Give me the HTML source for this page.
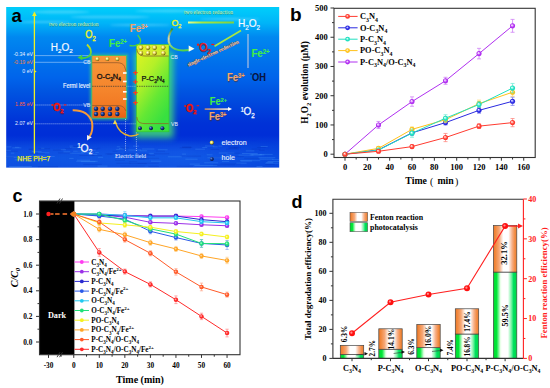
<!DOCTYPE html>
<html><head><meta charset="utf-8"><style>
html,body{margin:0;padding:0;background:#fff;width:550px;height:388px;overflow:hidden}
svg{display:block}
text{font-family:"Liberation Sans",sans-serif}
</style></head><body>
<svg width="550" height="388" viewBox="0 0 550 388">
<rect width="550" height="388" fill="#fff"/>
<defs><linearGradient id='bg' gradientUnits='userSpaceOnUse' x1='0' x2='0' y1='7' y2='167.6'><stop offset='0' stop-color='#00ccfa'/><stop offset='0.025' stop-color='#00c8fa'/><stop offset='0.1' stop-color='#00b4f8'/><stop offset='0.187' stop-color='#0088f0'/><stop offset='0.361' stop-color='#006eeb'/><stop offset='0.44' stop-color='#0064eb'/><stop offset='0.523' stop-color='#0055e1'/><stop offset='0.722' stop-color='#0032d7'/><stop offset='0.797' stop-color='#002ed7'/><stop offset='0.86' stop-color='#0640dc'/><stop offset='0.94' stop-color='#084ce0'/><stop offset='1' stop-color='#0846dc'/></linearGradient><linearGradient id='bgx' x1='0' x2='1' y1='0' y2='0'><stop offset='0' stop-color='#000' stop-opacity='0.04'/><stop offset='0.5' stop-color='#000' stop-opacity='0'/><stop offset='1' stop-color='#000' stop-opacity='0.05'/></linearGradient><linearGradient id='sea' x1='0' x2='0' y1='0' y2='1'><stop offset='0' stop-color='#3a90ff' stop-opacity='0'/><stop offset='1' stop-color='#3a90ff' stop-opacity='0'/></linearGradient><linearGradient id='ob' x1='0' x2='0' y1='0' y2='1'><stop offset='0' stop-color='#f7963a'/><stop offset='0.55' stop-color='#f5852c'/><stop offset='0.78' stop-color='#f27a24'/><stop offset='1' stop-color='#e85e12'/></linearGradient><linearGradient id='pb' x1='0' x2='0.55' y1='0' y2='1'><stop offset='0' stop-color='#e8f420'/><stop offset='0.4' stop-color='#b4f028'/><stop offset='0.72' stop-color='#64e834'/><stop offset='1' stop-color='#38e040'/></linearGradient><filter id='glow' x='-50%' y='-50%' width='200%' height='200%'><feGaussianBlur stdDeviation='3'/></filter><filter id='blur1' x='-50%' y='-50%' width='200%' height='200%'><feGaussianBlur stdDeviation='1'/></filter><radialGradient id='el' cx='0.4' cy='0.38' r='0.62'><stop offset='0' stop-color='#ffffe8'/><stop offset='0.35' stop-color='#f0e870'/><stop offset='0.75' stop-color='#b0a028'/><stop offset='1' stop-color='#504010'/></radialGradient><radialGradient id='ho' cx='0.35' cy='0.35' r='0.65'><stop offset='0' stop-color='#6a90e0'/><stop offset='0.5' stop-color='#18388a'/><stop offset='1' stop-color='#0a1440'/></radialGradient></defs>
<rect x='6.2' y='7' width='273.0' height='160.6' fill='url(#bg)'/>
<defs><linearGradient id='seah' gradientUnits='userSpaceOnUse' x1='6' x2='279' y1='0' y2='0'><stop offset='0' stop-color='#3a90ff' stop-opacity='0.12'/><stop offset='0.65' stop-color='#3a90ff' stop-opacity='0.2'/><stop offset='1' stop-color='#3a90ff' stop-opacity='0'/></linearGradient><linearGradient id='seav' x1='0' x2='0' y1='0' y2='1'><stop offset='0' stop-color='#fff' stop-opacity='0'/><stop offset='0.4' stop-color='#fff' stop-opacity='1'/><stop offset='1' stop-color='#fff' stop-opacity='1'/></linearGradient><mask id='seam'><rect x='6' y='140' width='273' height='28' fill='url(#seav)'/></mask></defs>
<rect x='6.2' y='140' width='273.0' height='27.6' fill='url(#seah)' mask='url(#seam)'/>
<path d='M38.1 152.8h11.4 M97.9 157.3h5.1 M116.8 146.8h3.1 M226.1 154.9h5.5 M259.7 159.2h13.6 M9.1 166.5h22.7 M157.9 149.8h9.7 M13.7 157.5h5.1 M76.2 161.3h21.5 M206.7 154.8h5.8 M272.3 159.6h6.9 M182.1 154.1h4.0 M236.4 163.2h10.2 M242.0 153.5h15.7 M60.7 149.7h5.4 M69.2 158.4h4.4 M167.9 156.8h13.9 M14.9 147.3h4.5 M10.8 153.1h3.5 M37.5 158.9h8.4 M130.7 155.8h5.2 M69.8 153.2h13.9 M260.6 146.5h7.1 M189.7 164.1h10.1 M140.1 150.8h7.1 M97.6 166.1h9.9 M218.8 153.0h15.5 M259.4 154.4h13.3 M148.7 153.4h5.2 M238.5 155.1h15.0 M251.3 154.8h10.5 M6.2 157.0h10.6 M218.4 146.1h3.9 M150.9 161.2h10.4 M73.2 151.2h12.0 M207.5 157.8h18.0 M239.9 160.7h20.4 M258.4 157.7h16.9 M119.1 148.6h3.5 M195.3 149.2h9.7 M116.2 149.4h8.3 M84.8 150.1h10.8 M118.6 157.6h4.5 M266.3 162.6h6.9 M212.8 146.8h4.9 M249.6 154.9h14.8 M12.2 147.9h9.2 M32.1 151.6h9.4 M41.1 148.3h3.3 M81.0 152.6h12.6 M45.7 156.5h9.0 M128.2 150.0h13.0 M92.8 154.5h4.5 M202.2 147.5h5.0 M63.5 151.9h6.8 M95.3 152.5h3.5 M136.0 156.0h6.8 M69.6 146.1h3.2 M6.2 146.9h5.2 M240.6 161.0h11.4 M222.0 161.4h7.2 M6.2 150.8h4.7 M185.4 159.2h12.2 M204.2 162.8h14.0 M14.6 159.8h16.5 M70.0 147.6h9.4 M267.5 161.5h11.7 M17.7 159.5h6.9 M80.8 161.6h14.6 M77.1 160.2h13.1 M29.1 155.8h16.4 M256.5 166.5h6.0 M265.3 163.2h13.3 M141.9 149.0h12.5 M245.8 150.9h8.6 M132.9 146.1h6.2 M204.9 146.0h9.5 M194.4 165.5h22.9' stroke='#5ab0ff' stroke-opacity='0.28' stroke-width='0.9'/>
<path d='M28.9 149.0h6.0 M115.1 160.3h9.8 M79.5 155.5h14.8 M155.9 151.1h9.1 M182.0 146.8h9.3 M83.4 164.4h18.3 M123.0 158.2h17.1 M180.8 156.0h4.8 M28.8 149.5h3.6 M65.0 148.7h6.7 M121.1 147.7h7.8 M153.6 153.8h15.8 M213.0 164.9h22.0 M107.1 154.2h5.1 M97.3 148.1h3.0 M30.4 153.6h14.4 M6.2 157.4h12.0 M210.8 149.5h8.5 M58.2 152.9h13.5 M220.3 163.9h20.3 M73.9 146.6h4.8 M120.5 166.1h24.0 M53.0 150.1h9.7 M129.5 163.6h17.2 M179.8 147.8h11.2 M129.1 161.8h8.0 M38.2 148.7h11.8 M226.0 149.1h12.8 M176.8 166.4h16.1 M77.6 151.3h6.0 M112.7 151.4h4.8 M123.6 153.4h10.9 M214.2 157.7h5.9 M136.7 158.9h12.4 M144.5 155.5h10.5 M182.3 147.5h9.9 M265.2 164.5h9.5 M131.7 154.4h16.7 M138.6 159.1h5.5 M251.7 149.1h8.7 M257.1 147.5h8.5 M234.2 147.8h3.3 M90.5 155.5h11.5 M6.2 151.3h11.6 M116.3 163.2h14.1 M137.1 154.3h12.7 M227.6 153.2h12.3 M230.1 147.8h10.9 M120.1 149.3h5.6 M148.3 166.4h10.5 M143.3 158.3h15.8 M37.8 166.7h20.2 M228.4 146.9h10.5 M228.3 156.6h15.6 M244.4 158.3h14.8 M228.6 148.2h8.1 M186.3 156.1h14.8 M70.9 147.3h8.7 M259.1 150.4h5.4 M137.6 163.2h21.2 M91.8 149.0h6.1 M105.4 153.8h16.4' stroke='#0020a0' stroke-opacity='0.18' stroke-width='0.9'/>
<g filter='url(#blur1)' fill='#a0eaff' opacity='0.35'><ellipse cx='60' cy='12' rx='30' ry='1.5'/><ellipse cx='110' cy='17' rx='40' ry='1.3'/><ellipse cx='170' cy='11' rx='35' ry='1.4'/><ellipse cx='230' cy='19' rx='30' ry='1.2'/><ellipse cx='45' cy='22' rx='25' ry='1'/><ellipse cx='140' cy='25' rx='30' ry='1'/></g>
<text x='11.5' y='22.3' fill='#000' font-size='18.5' text-anchor='start' style="font-family:'Liberation Sans',sans-serif;font-weight:bold" >a</text>
<path d='M34.5 55.6H92M34.5 62.3H92' stroke='#d8ecff' stroke-width='0.55' stroke-opacity='0.85'/>
<path d='M34.5 105H92M34.5 123.8H137' stroke='#e0efff' stroke-width='0.6' stroke-dasharray='1.2 0.8' stroke-opacity='0.9'/>
<path d='M34.4 153.6V14' stroke='#f0f020' stroke-width='1.3'/><path d='M34.4 11.5l-2.3 4.5h4.6z' fill='#f0f020'/>
<path d='M34.6 70.2l2 1.3l-2 1.3z' fill='#f0f020'/>
<text x='33' y='56' fill='#e8f0ff' font-size='5.2' text-anchor='end' style="font-family:'Liberation Sans',sans-serif" >-0.34 eV</text>
<text x='33' y='63.6' fill='#f08040' font-size='5.2' text-anchor='end' style="font-family:'Liberation Sans',sans-serif" >-0.19 eV</text>
<text x='33' y='73.4' fill='#e8f0ff' font-size='5.2' text-anchor='end' style="font-family:'Liberation Sans',sans-serif" >0 eV</text>
<text x='33' y='106' fill='#ff6040' font-size='5.2' text-anchor='end' style="font-family:'Liberation Sans',sans-serif" >1.85 eV</text>
<text x='33' y='125' fill='#e8f0ff' font-size='5.2' text-anchor='end' style="font-family:'Liberation Sans',sans-serif" >2.07 eV</text>
<text x='17.3' y='160.5' fill='#e8e820' font-size='6.7' text-anchor='start' style="font-family:'Liberation Sans',sans-serif" stroke='#e8e820' stroke-width='0.25' >NHE PH=7</text>
<rect x='134.5' y='52' width='39' height='86' fill='#50ff60' opacity='0.7' filter='url(#glow)'/>
<rect x='89.5' y='53.5' width='39' height='67' fill='#40d080' opacity='0.5' filter='url(#blur1)'/>
<rect x='91.8' y='55.5' width='34.6' height='62.7' fill='url(#ob)' stroke='#3cc070' stroke-width='0.9'/>
<path d='M92.2 62.7H117Q123 62.7 124.5 66.5L126 71' stroke='#9a5a2a' stroke-width='0.8' fill='none'/>
<path d='M92.2 105.5H117Q123 105.5 124.5 108.5L126 111' stroke='#9a5a2a' stroke-width='0.8' fill='none'/>
<path d='M92.2 86.3H126.2' stroke='#333' stroke-width='0.7' stroke-dasharray='1.4 0.9'/>
<circle cx='97.3' cy='59' r='2' fill='url(#el)'/>
<circle cx='107.3' cy='59' r='2' fill='url(#el)'/>
<circle cx='117.3' cy='59' r='2' fill='url(#el)'/>
<circle cx='96' cy='108.7' r='2.25' fill='url(#ho)'/>
<circle cx='102.7' cy='108.7' r='2.25' fill='url(#ho)'/>
<circle cx='110' cy='108.7' r='2.25' fill='url(#ho)'/>
<circle cx='117.3' cy='108.7' r='2.25' fill='url(#ho)'/>
<circle cx='96' cy='114' r='2.25' fill='url(#ho)'/>
<circle cx='102.7' cy='114' r='2.25' fill='url(#ho)'/>
<circle cx='110' cy='114' r='2.25' fill='url(#ho)'/>
<circle cx='117.3' cy='114' r='2.25' fill='url(#ho)'/>
<text x='108.7' y='79' fill='#111' font-size='7.4' text-anchor='middle' style="font-family:'Liberation Sans',sans-serif" stroke='#111' stroke-width='0.3' >O-C<tspan font-size='4.59' dy='2.07'>3</tspan><tspan dy='-2.07'>&#8203;</tspan>N<tspan font-size='4.59' dy='2.07'>4</tspan><tspan dy='-2.07'>&#8203;</tspan></text>
<rect x='136.4' y='44.5' width='32.6' height='87.3' fill='url(#pb)' stroke='#30c030' stroke-width='0.6'/>
<rect x='136.8' y='44.9' width='31.8' height='11' fill='#e0ea30' opacity='0.6'/>
<path d='M168.6 56H145Q139 56 137.5 52L136.8 49' stroke='#8a6a2a' stroke-width='0.8' fill='none'/>
<path d='M168.6 123.6H145Q139 123.6 137.5 120L136.8 117' stroke='#8a6a2a' stroke-width='0.8' fill='none'/>
<path d='M136.8 86.3H168.6' stroke='#333' stroke-width='0.7' stroke-dasharray='1.4 0.9'/><path d='M126.4 86.3H136.4' stroke='#c0d8ff' stroke-width='0.6' stroke-dasharray='1 1'/>
<circle cx='140.9' cy='47.6' r='2.3' fill='url(#el)'/>
<circle cx='147.9' cy='47.6' r='2.3' fill='url(#el)'/>
<circle cx='154.5' cy='47.6' r='2.3' fill='url(#el)'/>
<circle cx='163.2' cy='47.6' r='2.3' fill='url(#el)'/>
<circle cx='140.9' cy='53' r='2.3' fill='url(#el)'/>
<circle cx='147.9' cy='53' r='2.3' fill='url(#el)'/>
<circle cx='154.5' cy='53' r='2.3' fill='url(#el)'/>
<circle cx='163.2' cy='53' r='2.3' fill='url(#el)'/>
<circle cx='140' cy='128.2' r='2' fill='url(#ho)'/>
<circle cx='151' cy='128.2' r='2' fill='url(#ho)'/>
<circle cx='162.4' cy='128.2' r='2' fill='url(#ho)'/>
<text x='153' y='81' fill='#111' font-size='7.4' text-anchor='middle' style="font-family:'Liberation Sans',sans-serif" stroke='#111' stroke-width='0.25' >P-C<tspan font-size='4.59' dy='2.07'>3</tspan><tspan dy='-2.07'>&#8203;</tspan>N<tspan font-size='4.59' dy='2.07'>4</tspan><tspan dy='-2.07'>&#8203;</tspan></text>
<rect x='123' y='72.2' width='3.6' height='1.6' fill='#fff'/>
<rect x='123' y='80.7' width='3.6' height='1.6' fill='#fff'/>
<rect x='123' y='91.0' width='3.6' height='1.6' fill='#fff'/>
<rect x='123' y='98.2' width='3.6' height='1.6' fill='#fff'/>
<path d='M133.2 72.7h4.4M135.4 70.5v4.4' stroke='#ff3a20' stroke-width='1.2'/>
<path d='M133.2 81.8h4.4M135.4 79.6v4.4' stroke='#ff3a20' stroke-width='1.2'/>
<path d='M133.2 92.7h4.4M135.4 90.5v4.4' stroke='#ff3a20' stroke-width='1.2'/>
<path d='M133.2 102.7h4.4M135.4 100.5v4.4' stroke='#ff3a20' stroke-width='1.2'/>
<path d='M125.5 119V151M136.4 132.5V151' stroke='#f0f4ff' stroke-width='0.7' stroke-dasharray='1 1.2' opacity='0.9'/>
<text x='130.5' y='157.5' fill='#f0f4ff' font-size='6' text-anchor='middle' style="font-family:'Liberation Serif',serif" >Electric field</text>
<text x='83.3' y='64.3' fill='#e8f0ff' font-size='5.2' text-anchor='start' style="font-family:'Liberation Sans',sans-serif" >CB</text>
<text x='83.3' y='106.6' fill='#e8f0ff' font-size='5.2' text-anchor='start' style="font-family:'Liberation Sans',sans-serif" >VB</text>
<text x='170.5' y='59' fill='#e8f0ff' font-size='5.2' text-anchor='start' style="font-family:'Liberation Sans',sans-serif" >CB</text>
<text x='171' y='125.6' fill='#e8f0ff' font-size='5.2' text-anchor='start' style="font-family:'Liberation Sans',sans-serif" >VB</text>
<text transform='translate(76.6,87.9) scale(0.86,1)' fill='#eef4ff' stroke='#eef4ff' stroke-width='0.15' font-size='6.5' text-anchor='middle' style="font-family:'Liberation Sans',sans-serif">Fermi level</text>
<text transform='translate(50.80,51.10) scale(1.0,1)' fill='#f4f8ff' stroke='#f4f8ff' stroke-width='0.2' font-size='10' font-weight='normal' style="font-family:'Liberation Sans',sans-serif">H<tspan font-size='6.20' dy='2.20'>2</tspan><tspan dy='-2.20'>O</tspan><tspan font-size='6.20' dy='2.20'>2</tspan></text>
<text transform='translate(85.20,38.40) scale(0.9,1)' fill='#f0f228' stroke='#f0f228' stroke-width='0.35' font-size='10.4' font-weight='normal' style="font-family:'Liberation Sans',sans-serif">O<tspan font-size='6.45' dy='2.29'>2</tspan></text>
<text transform='translate(109.00,47.30) scale(0.8924,1)' fill='#44ee44' stroke='#44ee44' stroke-width='0.12' font-size='10.8' font-weight='bold' style="font-family:'Liberation Sans',sans-serif">Fe<tspan font-size='6.70' dy='-3.24'>2+</tspan></text>
<text transform='translate(129.80,31.90) scale(0.9311999999999999,1)' fill='#f5a264' stroke='#f5a264' stroke-width='0.12' font-size='10.3' font-weight='bold' style="font-family:'Liberation Sans',sans-serif">Fe<tspan font-size='6.39' dy='-3.09'>3+</tspan></text>
<text x='49.5' y='26.8' fill='#3a6a30' font-size='5.5' text-anchor='start' style="font-family:'Liberation Serif',serif" opacity='0.5'>two electron reduction</text>
<text x='49.0' y='26.3' fill='#d8f090' font-size='5.5' text-anchor='start' style="font-family:'Liberation Serif',serif" >two electron reduction</text>
<text x='184.5' y='14.9' fill='#3a6a30' font-size='5.45' text-anchor='start' style="font-family:'Liberation Serif',serif" opacity='0.5'>two electron reduction</text>
<text x='184' y='14.4' fill='#d8f090' font-size='5.45' text-anchor='start' style="font-family:'Liberation Serif',serif" >two electron reduction</text>
<text transform='translate(171.40,26.00) scale(0.9,1)' fill='#f0f228' stroke='#f0f228' stroke-width='0.35' font-size='9.9' font-weight='normal' style="font-family:'Liberation Sans',sans-serif">O<tspan font-size='6.14' dy='2.18'>2</tspan></text>
<text transform='translate(238.00,27.40) scale(0.98,1)' fill='#f4f8ff' stroke='#f4f8ff' stroke-width='0.2' font-size='10.3' font-weight='normal' style="font-family:'Liberation Sans',sans-serif">H<tspan font-size='6.39' dy='2.27'>2</tspan><tspan dy='-2.27'>O</tspan><tspan font-size='6.39' dy='2.27'>2</tspan></text>
<circle cx='198.00' cy='44.73' r='1.15' fill='#f01818'/>
<text transform='translate(199.40,51.90) scale(0.92,1)' fill='#600000' stroke='#600000' stroke-width='0.6' font-size='11.5' font-weight='normal' style="font-family:'Liberation Sans',sans-serif" opacity='0.55'>O<tspan font-size='7.13' dy='2.53'>2</tspan></text>
<text transform='translate(198.90,51.40) scale(0.92,1)' fill='#f01818' stroke='#f01818' stroke-width='0.3' font-size='11.5' font-weight='normal' style="font-family:'Liberation Sans',sans-serif">O<tspan font-size='7.13' dy='2.53'>2</tspan></text>
<path d='M211.30 44.50h2.99' stroke='#f01818' stroke-width='1.26'/>
<text transform='translate(251.40,56.80) scale(0.9021,1)' fill='#44ee44' stroke='#44ee44' stroke-width='0.12' font-size='10.8' font-weight='bold' style="font-family:'Liberation Sans',sans-serif">Fe<tspan font-size='6.70' dy='-3.24'>2+</tspan></text>
<text transform='translate(227.50,81.50) scale(0.873,1)' fill='#503020' stroke='#503020' stroke-width='0.42' font-size='10.8' font-weight='bold' style="font-family:'Liberation Sans',sans-serif" opacity='0.55'>Fe<tspan font-size='6.70' dy='-3.24'>3+</tspan></text>
<text transform='translate(227.00,81.00) scale(0.873,1)' fill='#f5a870' stroke='#f5a870' stroke-width='0.12' font-size='10.8' font-weight='bold' style="font-family:'Liberation Sans',sans-serif">Fe<tspan font-size='6.70' dy='-3.24'>3+</tspan></text>
<text transform='translate(252.00,81.00) scale(0.86,1)' fill='#081440' stroke='#081440' stroke-width='0.1' font-size='10.8' font-weight='bold' style="font-family:'Liberation Sans',sans-serif">OH</text>
<circle cx='251' cy='74' r='0.8' fill='#081848'/>
<text transform='translate(213.8,54.8) rotate(-25)' fill='#f8d4bc' stroke='#6a4028' stroke-width='0.4' paint-order='stroke' font-size='5.3' text-anchor='middle' style="font-family:'Liberation Serif',serif;font-weight:bold">single-electron reduction</text>
<defs><linearGradient id='gl' gradientUnits='userSpaceOnUse' x1='188' x2='234' y1='0' y2='0'><stop offset='0' stop-color='#e8ff90'/><stop offset='0.3' stop-color='#a8e840'/><stop offset='1' stop-color='#80d040'/></linearGradient></defs>
<path d='M188 22.6H234' stroke='url(#gl)' stroke-width='2'/>
<path d='M214.5 46.2L241 30.6' stroke='#a8e840' stroke-width='1.7'/>
<path d='M248 34V68' stroke='#c0c8e0' stroke-width='1.1'/>
<circle cx='52.30' cy='105.10' r='1.00' fill='#f01818'/>
<text transform='translate(53.70,111.40) scale(0.92,1)' fill='#600000' stroke='#600000' stroke-width='0.6' font-size='10' font-weight='bold' style="font-family:'Liberation Sans',sans-serif" opacity='0.55'>O<tspan font-size='6.20' dy='2.20'>2</tspan></text>
<text transform='translate(53.20,110.90) scale(0.92,1)' fill='#f01818' stroke='#f01818' stroke-width='0.3' font-size='10' font-weight='bold' style="font-family:'Liberation Sans',sans-serif">O<tspan font-size='6.20' dy='2.20'>2</tspan></text>
<path d='M63.80 104.90h2.60' stroke='#f01818' stroke-width='1.10'/>
<circle cx='185.10' cy='105.90' r='1.00' fill='#f01818'/>
<text transform='translate(186.50,112.20) scale(0.92,1)' fill='#600000' stroke='#600000' stroke-width='0.6' font-size='10' font-weight='bold' style="font-family:'Liberation Sans',sans-serif" opacity='0.55'>O<tspan font-size='6.20' dy='2.20'>2</tspan></text>
<text transform='translate(186.00,111.70) scale(0.92,1)' fill='#f01818' stroke='#f01818' stroke-width='0.3' font-size='10' font-weight='bold' style="font-family:'Liberation Sans',sans-serif">O<tspan font-size='6.20' dy='2.20'>2</tspan></text>
<path d='M196.60 105.70h2.60' stroke='#f01818' stroke-width='1.10'/>
<text transform='translate(209.80,104.50) scale(0.9215,1)' fill='#44ee44' stroke='#44ee44' stroke-width='0.12' font-size='10' font-weight='bold' style="font-family:'Liberation Sans',sans-serif">Fe<tspan font-size='6.20' dy='-3.00'>2+</tspan></text>
<text transform='translate(209.50,120.50) scale(0.873,1)' fill='#503020' stroke='#503020' stroke-width='0.42' font-size='10.7' font-weight='bold' style="font-family:'Liberation Sans',sans-serif" opacity='0.55'>Fe<tspan font-size='6.63' dy='-3.21'>3+</tspan></text>
<text transform='translate(209.00,120.00) scale(0.873,1)' fill='#f5a870' stroke='#f5a870' stroke-width='0.12' font-size='10.7' font-weight='bold' style="font-family:'Liberation Sans',sans-serif">Fe<tspan font-size='6.63' dy='-3.21'>3+</tspan></text>
<defs><linearGradient id='ga' gradientUnits='userSpaceOnUse' x1='205' x2='232' y1='0' y2='0'><stop offset='0' stop-color='#d09060'/><stop offset='1' stop-color='#ffffff'/></linearGradient></defs>
<path d='M204.7 109.1H228.5' stroke='url(#ga)' stroke-width='1.5'/><path d='M232 109.1l-4 -2v4z' fill='#fff'/>
<text transform='translate(240.40,112.25) scale(1,1)' fill='#f4f8ff' stroke='#f4f8ff' stroke-width='0.2' font-size='6.3' font-weight='normal' style="font-family:'Liberation Sans',sans-serif">1</text>
<text transform='translate(243.55,115.40) scale(0.95,1)' fill='#f4f8ff' stroke='#f4f8ff' stroke-width='0.25' font-size='10.5' font-weight='normal' style="font-family:'Liberation Sans',sans-serif">O<tspan font-size='6.51' dy='2.31'>2</tspan></text>
<text transform='translate(77.30,148.20) scale(1,1)' fill='#f4f8ff' stroke='#f4f8ff' stroke-width='0.2' font-size='6.6' font-weight='normal' style="font-family:'Liberation Sans',sans-serif">1</text>
<text transform='translate(80.60,151.50) scale(0.95,1)' fill='#f4f8ff' stroke='#f4f8ff' stroke-width='0.25' font-size='11' font-weight='normal' style="font-family:'Liberation Sans',sans-serif">O<tspan font-size='6.82' dy='2.42'>2</tspan></text>
<circle cx='211.8' cy='142.7' r='2.1' fill='url(#el)'/><circle cx='211.8' cy='159' r='2' fill='url(#ho)'/>
<text x='221.5' y='144.6' fill='#eef4ff' font-size='7.1' text-anchor='start' style="font-family:'Liberation Sans',sans-serif" stroke='#eef4ff' stroke-width='0.1' >electron</text>
<text x='221.5' y='159.6' fill='#eef4ff' font-size='7.1' text-anchor='start' style="font-family:'Liberation Sans',sans-serif" stroke='#eef4ff' stroke-width='0.1' >hole</text>
<defs><linearGradient id='ga1' gradientUnits='userSpaceOnUse' x1='0' x2='0' y1='44' y2='58'><stop offset='0' stop-color='#d0e020'/><stop offset='1' stop-color='#40d040'/></linearGradient></defs><path d='M87 44.5Q92.5 50 90.5 54.5Q87.5 58.5 81 58' stroke='url(#ga1)' stroke-width='1.8' fill='none'/><path d='M77.5 57.5l4.8 -2.8v5.6z' fill='#40d040'/>
<path d='M137.7 35Q142.5 41 139.5 44Q136 46.5 129.5 45.5' stroke='#50d040' stroke-width='1.3' fill='none'/>
<defs><linearGradient id='ga2' gradientUnits='userSpaceOnUse' x1='0' x2='0' y1='28' y2='52'><stop offset='0' stop-color='#208a20'/><stop offset='0.45' stop-color='#e0d8b0'/><stop offset='1' stop-color='#40d040'/></linearGradient></defs><path d='M172.5 28.5Q166 38 170 45Q175 52 189 50' stroke='url(#ga2)' stroke-width='2' fill='none'/><path d='M194.5 48.8l-5.8 -3.2v6.2z' fill='#f8fff0'/>
<path d='M72.7 110.2Q88 110 92 122Q93.5 131 89.5 136.5' stroke='#f59a38' stroke-width='2' fill='none'/><path d='M87 140.5l0 -5.5l4.8 2.2z' fill='#f4f0e8'/>
<path d='M115.5 122.5Q119 133.5 129 135.8Q135 136.5 138.5 134' stroke='#e8b030' stroke-width='1.4' fill='none'/><path d='M115 119.5l-2 4.5h4z' fill='#f0d850'/>
<g stroke='#333' stroke-width='1.1' fill='none'><rect x='334.0' y='8.3' width='201.2' height='149.2'/></g>
<path d='M345.00 157.5v3.2 M356.17 157.5v2 M367.34 157.5v3.2 M378.51 157.5v2 M389.68 157.5v3.2 M400.85 157.5v2 M412.02 157.5v3.2 M423.19 157.5v2 M434.36 157.5v3.2 M445.53 157.5v2 M456.70 157.5v3.2 M467.87 157.5v2 M479.04 157.5v3.2 M490.21 157.5v2 M501.38 157.5v3.2 M512.55 157.5v2 M523.72 157.5v3.2 M334.0 154.20h-3.5 M334.0 139.58h-2 M334.0 124.96h-3.5 M334.0 110.34h-2 M334.0 95.72h-3.5 M334.0 81.10h-2 M334.0 66.48h-3.5 M334.0 51.86h-2 M334.0 37.24h-3.5 M334.0 22.62h-2 M334.0 8.00h-3.5' stroke='#333' stroke-width='1' fill='none'/>
<text x='345.00' y='170.3' text-anchor='middle' style="font-family:'Liberation Serif',serif;font-weight:bold" font-size='8.5'>0</text>
<text x='367.34' y='170.3' text-anchor='middle' style="font-family:'Liberation Serif',serif;font-weight:bold" font-size='8.5'>20</text>
<text x='389.68' y='170.3' text-anchor='middle' style="font-family:'Liberation Serif',serif;font-weight:bold" font-size='8.5'>40</text>
<text x='412.02' y='170.3' text-anchor='middle' style="font-family:'Liberation Serif',serif;font-weight:bold" font-size='8.5'>60</text>
<text x='434.36' y='170.3' text-anchor='middle' style="font-family:'Liberation Serif',serif;font-weight:bold" font-size='8.5'>80</text>
<text x='456.70' y='170.3' text-anchor='middle' style="font-family:'Liberation Serif',serif;font-weight:bold" font-size='8.5'>100</text>
<text x='479.04' y='170.3' text-anchor='middle' style="font-family:'Liberation Serif',serif;font-weight:bold" font-size='8.5'>120</text>
<text x='501.38' y='170.3' text-anchor='middle' style="font-family:'Liberation Serif',serif;font-weight:bold" font-size='8.5'>140</text>
<text x='523.72' y='170.3' text-anchor='middle' style="font-family:'Liberation Serif',serif;font-weight:bold" font-size='8.5'>160</text>
<text x='327.8' y='157.10' text-anchor='end' style="font-family:'Liberation Serif',serif;font-weight:bold" font-size='8.5'>0</text>
<text x='327.8' y='127.86' text-anchor='end' style="font-family:'Liberation Serif',serif;font-weight:bold" font-size='8.5'>100</text>
<text x='327.8' y='98.62' text-anchor='end' style="font-family:'Liberation Serif',serif;font-weight:bold" font-size='8.5'>200</text>
<text x='327.8' y='69.38' text-anchor='end' style="font-family:'Liberation Serif',serif;font-weight:bold" font-size='8.5'>300</text>
<text x='327.8' y='40.14' text-anchor='end' style="font-family:'Liberation Serif',serif;font-weight:bold" font-size='8.5'>400</text>
<text x='327.8' y='10.90' text-anchor='end' style="font-family:'Liberation Serif',serif;font-weight:bold" font-size='8.5'>500</text>
<text x='405.3' y='184.4' style="font-family:'Liberation Serif',serif;font-weight:bold" font-size='9.8'>Time</text><text x='430' y='184.8' style="font-family:'Liberation Serif',serif" font-size='10'>(</text><text x='437.4' y='184.4' style="font-family:'Liberation Serif',serif;font-weight:bold" font-size='9.8'>min</text><text x='455' y='184.8' style="font-family:'Liberation Serif',serif" font-size='10'>)</text>
<text transform='translate(308.3,82.4) rotate(-90)' text-anchor='middle' style="font-family:'Liberation Serif',serif;font-weight:bold" font-size='9.3'><tspan>H</tspan><tspan font-size='6.51' dy='2.79'>2</tspan><tspan dy='-2.79'>&#8203;</tspan><tspan>O</tspan><tspan font-size='6.51' dy='2.79'>2</tspan><tspan dy='-2.79'>&#8203;</tspan><tspan> evolution (μM)</tspan></text>
<polyline points='345.00,154.20 378.51,124.96 412.02,101.57 445.53,80.81 479.04,53.61 512.55,25.84' fill='none' stroke='#b030f0' stroke-width='1'/>
<polyline points='345.00,154.20 378.51,149.81 412.02,132.85 445.53,122.62 479.04,110.34 512.55,101.28' fill='none' stroke='#2a2ae0' stroke-width='1'/>
<polyline points='345.00,154.20 378.51,148.35 412.02,129.35 445.53,119.70 479.04,103.61 512.55,92.21' fill='none' stroke='#ffc21a' stroke-width='1'/>
<polyline points='345.00,154.20 378.51,150.11 412.02,133.15 445.53,118.23 479.04,104.49 512.55,88.12' fill='none' stroke='#22e0c0' stroke-width='1'/>
<polyline points='345.00,154.20 378.51,151.28 412.02,146.60 445.53,137.53 479.04,126.13 512.55,122.62' fill='none' stroke='#ff3b30' stroke-width='1'/>
<path d='M378.51 121.45V128.47M376.51 121.45h4M376.51 128.47h4' stroke='#b030f0' stroke-width='0.8' opacity='0.6'/>
<path d='M412.02 96.89V106.25M410.02 96.89h4M410.02 106.25h4' stroke='#b030f0' stroke-width='0.8' opacity='0.6'/>
<path d='M445.53 77.30V84.32M443.53 77.30h4M443.53 84.32h4' stroke='#b030f0' stroke-width='0.8' opacity='0.6'/>
<path d='M479.04 48.35V58.88M477.04 48.35h4M477.04 58.88h4' stroke='#b030f0' stroke-width='0.8' opacity='0.6'/>
<path d='M512.55 19.40V32.27M510.55 19.40h4M510.55 32.27h4' stroke='#b030f0' stroke-width='0.8' opacity='0.6'/>
<circle cx='345.00' cy='154.20' r='2.55' fill='#b030f0'/><circle cx='344.70' cy='153.90' r='1.3' fill='#e29bff'/><circle cx='344.40' cy='153.50' r='0.6' fill='#fff'/>
<circle cx='378.51' cy='124.96' r='2.55' fill='#b030f0'/><circle cx='378.21' cy='124.66' r='1.3' fill='#e29bff'/><circle cx='377.91' cy='124.26' r='0.6' fill='#fff'/>
<circle cx='412.02' cy='101.57' r='2.55' fill='#b030f0'/><circle cx='411.72' cy='101.27' r='1.3' fill='#e29bff'/><circle cx='411.42' cy='100.87' r='0.6' fill='#fff'/>
<circle cx='445.53' cy='80.81' r='2.55' fill='#b030f0'/><circle cx='445.23' cy='80.51' r='1.3' fill='#e29bff'/><circle cx='444.93' cy='80.11' r='0.6' fill='#fff'/>
<circle cx='479.04' cy='53.61' r='2.55' fill='#b030f0'/><circle cx='478.74' cy='53.31' r='1.3' fill='#e29bff'/><circle cx='478.44' cy='52.91' r='0.6' fill='#fff'/>
<circle cx='512.55' cy='25.84' r='2.55' fill='#b030f0'/><circle cx='512.25' cy='25.54' r='1.3' fill='#e29bff'/><circle cx='511.95' cy='25.14' r='0.6' fill='#fff'/>
<path d='M378.51 148.35V151.28M376.51 148.35h4M376.51 151.28h4' stroke='#2a2ae0' stroke-width='0.8' opacity='0.6'/>
<path d='M412.02 130.52V135.19M410.02 130.52h4M410.02 135.19h4' stroke='#2a2ae0' stroke-width='0.8' opacity='0.6'/>
<path d='M445.53 120.28V124.96M443.53 120.28h4M443.53 124.96h4' stroke='#2a2ae0' stroke-width='0.8' opacity='0.6'/>
<path d='M479.04 107.42V113.26M477.04 107.42h4M477.04 113.26h4' stroke='#2a2ae0' stroke-width='0.8' opacity='0.6'/>
<path d='M512.55 97.18V105.37M510.55 97.18h4M510.55 105.37h4' stroke='#2a2ae0' stroke-width='0.8' opacity='0.6'/>
<circle cx='345.00' cy='154.20' r='2.55' fill='#2a2ae0'/><circle cx='344.70' cy='153.90' r='1.3' fill='#8f8fff'/><circle cx='344.40' cy='153.50' r='0.6' fill='#fff'/>
<circle cx='378.51' cy='149.81' r='2.55' fill='#2a2ae0'/><circle cx='378.21' cy='149.51' r='1.3' fill='#8f8fff'/><circle cx='377.91' cy='149.11' r='0.6' fill='#fff'/>
<circle cx='412.02' cy='132.85' r='2.55' fill='#2a2ae0'/><circle cx='411.72' cy='132.55' r='1.3' fill='#8f8fff'/><circle cx='411.42' cy='132.15' r='0.6' fill='#fff'/>
<circle cx='445.53' cy='122.62' r='2.55' fill='#2a2ae0'/><circle cx='445.23' cy='122.32' r='1.3' fill='#8f8fff'/><circle cx='444.93' cy='121.92' r='0.6' fill='#fff'/>
<circle cx='479.04' cy='110.34' r='2.55' fill='#2a2ae0'/><circle cx='478.74' cy='110.04' r='1.3' fill='#8f8fff'/><circle cx='478.44' cy='109.64' r='0.6' fill='#fff'/>
<circle cx='512.55' cy='101.28' r='2.55' fill='#2a2ae0'/><circle cx='512.25' cy='100.98' r='1.3' fill='#8f8fff'/><circle cx='511.95' cy='100.58' r='0.6' fill='#fff'/>
<path d='M378.51 146.60V150.11M376.51 146.60h4M376.51 150.11h4' stroke='#ffc21a' stroke-width='0.8' opacity='0.6'/>
<path d='M412.02 127.01V131.69M410.02 127.01h4M410.02 131.69h4' stroke='#ffc21a' stroke-width='0.8' opacity='0.6'/>
<path d='M445.53 116.77V122.62M443.53 116.77h4M443.53 122.62h4' stroke='#ffc21a' stroke-width='0.8' opacity='0.6'/>
<path d='M479.04 100.11V107.12M477.04 100.11h4M477.04 107.12h4' stroke='#ffc21a' stroke-width='0.8' opacity='0.6'/>
<path d='M512.55 88.12V96.30M510.55 88.12h4M510.55 96.30h4' stroke='#ffc21a' stroke-width='0.8' opacity='0.6'/>
<circle cx='345.00' cy='154.20' r='2.55' fill='#ffc21a'/><circle cx='344.70' cy='153.90' r='1.3' fill='#ffe38f'/><circle cx='344.40' cy='153.50' r='0.6' fill='#fff'/>
<circle cx='378.51' cy='148.35' r='2.55' fill='#ffc21a'/><circle cx='378.21' cy='148.05' r='1.3' fill='#ffe38f'/><circle cx='377.91' cy='147.65' r='0.6' fill='#fff'/>
<circle cx='412.02' cy='129.35' r='2.55' fill='#ffc21a'/><circle cx='411.72' cy='129.05' r='1.3' fill='#ffe38f'/><circle cx='411.42' cy='128.65' r='0.6' fill='#fff'/>
<circle cx='445.53' cy='119.70' r='2.55' fill='#ffc21a'/><circle cx='445.23' cy='119.40' r='1.3' fill='#ffe38f'/><circle cx='444.93' cy='119.00' r='0.6' fill='#fff'/>
<circle cx='479.04' cy='103.61' r='2.55' fill='#ffc21a'/><circle cx='478.74' cy='103.31' r='1.3' fill='#ffe38f'/><circle cx='478.44' cy='102.91' r='0.6' fill='#fff'/>
<circle cx='512.55' cy='92.21' r='2.55' fill='#ffc21a'/><circle cx='512.25' cy='91.91' r='1.3' fill='#ffe38f'/><circle cx='511.95' cy='91.51' r='0.6' fill='#fff'/>
<path d='M378.51 148.64V151.57M376.51 148.64h4M376.51 151.57h4' stroke='#22e0c0' stroke-width='0.8' opacity='0.6'/>
<path d='M412.02 129.05V137.24M410.02 129.05h4M410.02 137.24h4' stroke='#22e0c0' stroke-width='0.8' opacity='0.6'/>
<path d='M445.53 114.73V121.74M443.53 114.73h4M443.53 121.74h4' stroke='#22e0c0' stroke-width='0.8' opacity='0.6'/>
<path d='M479.04 101.57V107.42M477.04 101.57h4M477.04 107.42h4' stroke='#22e0c0' stroke-width='0.8' opacity='0.6'/>
<path d='M512.55 83.44V92.80M510.55 83.44h4M510.55 92.80h4' stroke='#22e0c0' stroke-width='0.8' opacity='0.6'/>
<circle cx='345.00' cy='154.20' r='2.55' fill='#22e0c0'/><circle cx='344.70' cy='153.90' r='1.3' fill='#8ff5e5'/><circle cx='344.40' cy='153.50' r='0.6' fill='#fff'/>
<circle cx='378.51' cy='150.11' r='2.55' fill='#22e0c0'/><circle cx='378.21' cy='149.81' r='1.3' fill='#8ff5e5'/><circle cx='377.91' cy='149.41' r='0.6' fill='#fff'/>
<circle cx='412.02' cy='133.15' r='2.55' fill='#22e0c0'/><circle cx='411.72' cy='132.85' r='1.3' fill='#8ff5e5'/><circle cx='411.42' cy='132.45' r='0.6' fill='#fff'/>
<circle cx='445.53' cy='118.23' r='2.55' fill='#22e0c0'/><circle cx='445.23' cy='117.93' r='1.3' fill='#8ff5e5'/><circle cx='444.93' cy='117.53' r='0.6' fill='#fff'/>
<circle cx='479.04' cy='104.49' r='2.55' fill='#22e0c0'/><circle cx='478.74' cy='104.19' r='1.3' fill='#8ff5e5'/><circle cx='478.44' cy='103.79' r='0.6' fill='#fff'/>
<circle cx='512.55' cy='88.12' r='2.55' fill='#22e0c0'/><circle cx='512.25' cy='87.82' r='1.3' fill='#8ff5e5'/><circle cx='511.95' cy='87.42' r='0.6' fill='#fff'/>
<path d='M378.51 149.81V152.74M376.51 149.81h4M376.51 152.74h4' stroke='#ff3b30' stroke-width='0.8' opacity='0.6'/>
<path d='M412.02 144.84V148.35M410.02 144.84h4M410.02 148.35h4' stroke='#ff3b30' stroke-width='0.8' opacity='0.6'/>
<path d='M445.53 133.44V141.63M443.53 133.44h4M443.53 141.63h4' stroke='#ff3b30' stroke-width='0.8' opacity='0.6'/>
<path d='M479.04 123.79V128.47M477.04 123.79h4M477.04 128.47h4' stroke='#ff3b30' stroke-width='0.8' opacity='0.6'/>
<path d='M512.55 118.53V126.71M510.55 118.53h4M510.55 126.71h4' stroke='#ff3b30' stroke-width='0.8' opacity='0.6'/>
<circle cx='345.00' cy='154.20' r='2.55' fill='#ff3b30'/><circle cx='344.70' cy='153.90' r='1.3' fill='#ff9a8f'/><circle cx='344.40' cy='153.50' r='0.6' fill='#fff'/>
<circle cx='378.51' cy='151.28' r='2.55' fill='#ff3b30'/><circle cx='378.21' cy='150.98' r='1.3' fill='#ff9a8f'/><circle cx='377.91' cy='150.58' r='0.6' fill='#fff'/>
<circle cx='412.02' cy='146.60' r='2.55' fill='#ff3b30'/><circle cx='411.72' cy='146.30' r='1.3' fill='#ff9a8f'/><circle cx='411.42' cy='145.90' r='0.6' fill='#fff'/>
<circle cx='445.53' cy='137.53' r='2.55' fill='#ff3b30'/><circle cx='445.23' cy='137.23' r='1.3' fill='#ff9a8f'/><circle cx='444.93' cy='136.83' r='0.6' fill='#fff'/>
<circle cx='479.04' cy='126.13' r='2.55' fill='#ff3b30'/><circle cx='478.74' cy='125.83' r='1.3' fill='#ff9a8f'/><circle cx='478.44' cy='125.43' r='0.6' fill='#fff'/>
<circle cx='512.55' cy='122.62' r='2.55' fill='#ff3b30'/><circle cx='512.25' cy='122.32' r='1.3' fill='#ff9a8f'/><circle cx='511.95' cy='121.92' r='0.6' fill='#fff'/>
<path d='M338.2 16.40H357.6' stroke='#ff3b30' stroke-width='1'/><circle cx='347.6' cy='16.40' r='2.4' fill='#ff3b30'/><circle cx='347.4' cy='16.10' r='1.1' fill='#ff9a8f'/><circle cx='347.2' cy='15.80' r='0.5' fill='#fff'/>
<text x='360' y='19.20' style="font-family:'Liberation Serif',serif;font-weight:bold" font-size='8.4'><tspan>C</tspan><tspan font-size='5.88' dy='2.52'>3</tspan><tspan dy='-2.52'>&#8203;</tspan><tspan>N</tspan><tspan font-size='5.88' dy='2.52'>4</tspan><tspan dy='-2.52'>&#8203;</tspan></text>
<path d='M338.2 27.80H357.6' stroke='#2a2ae0' stroke-width='1'/><circle cx='347.6' cy='27.80' r='2.4' fill='#2a2ae0'/><circle cx='347.4' cy='27.50' r='1.1' fill='#8f8fff'/><circle cx='347.2' cy='27.20' r='0.5' fill='#fff'/>
<text x='360' y='30.60' style="font-family:'Liberation Serif',serif;font-weight:bold" font-size='8.4'><tspan>O-</tspan><tspan>C</tspan><tspan font-size='5.88' dy='2.52'>3</tspan><tspan dy='-2.52'>&#8203;</tspan><tspan>N</tspan><tspan font-size='5.88' dy='2.52'>4</tspan><tspan dy='-2.52'>&#8203;</tspan></text>
<path d='M338.2 39.20H357.6' stroke='#22e0c0' stroke-width='1'/><circle cx='347.6' cy='39.20' r='2.4' fill='#22e0c0'/><circle cx='347.4' cy='38.90' r='1.1' fill='#8ff5e5'/><circle cx='347.2' cy='38.60' r='0.5' fill='#fff'/>
<text x='360' y='42.00' style="font-family:'Liberation Serif',serif;font-weight:bold" font-size='8.4'><tspan>P-</tspan><tspan>C</tspan><tspan font-size='5.88' dy='2.52'>3</tspan><tspan dy='-2.52'>&#8203;</tspan><tspan>N</tspan><tspan font-size='5.88' dy='2.52'>4</tspan><tspan dy='-2.52'>&#8203;</tspan></text>
<path d='M338.2 50.60H357.6' stroke='#ffc21a' stroke-width='1'/><circle cx='347.6' cy='50.60' r='2.4' fill='#ffc21a'/><circle cx='347.4' cy='50.30' r='1.1' fill='#ffe38f'/><circle cx='347.2' cy='50.00' r='0.5' fill='#fff'/>
<text x='360' y='53.40' style="font-family:'Liberation Serif',serif;font-weight:bold" font-size='8.4'><tspan>PO-</tspan><tspan>C</tspan><tspan font-size='5.88' dy='2.52'>3</tspan><tspan dy='-2.52'>&#8203;</tspan><tspan>N</tspan><tspan font-size='5.88' dy='2.52'>4</tspan><tspan dy='-2.52'>&#8203;</tspan></text>
<path d='M338.2 62.00H357.6' stroke='#b030f0' stroke-width='1'/><circle cx='347.6' cy='62.00' r='2.4' fill='#b030f0'/><circle cx='347.4' cy='61.70' r='1.1' fill='#e29bff'/><circle cx='347.2' cy='61.40' r='0.5' fill='#fff'/>
<text x='360' y='64.80' style="font-family:'Liberation Serif',serif;font-weight:bold" font-size='8.4'><tspan>P-</tspan><tspan>C</tspan><tspan font-size='5.88' dy='2.52'>3</tspan><tspan dy='-2.52'>&#8203;</tspan><tspan>N</tspan><tspan font-size='5.88' dy='2.52'>4</tspan><tspan dy='-2.52'>&#8203;</tspan><tspan>/O-C</tspan><tspan font-size='5.88' dy='2.52'>3</tspan><tspan dy='-2.52'>&#8203;</tspan><tspan>N</tspan><tspan font-size='5.88' dy='2.52'>4</tspan><tspan dy='-2.52'>&#8203;</tspan></text>
<text x='290' y='21' style="font-family:'Liberation Sans',sans-serif;font-weight:bold" font-size='19'>b</text>
<rect x='39.5' y='201' width='34.9' height='153.7' fill='#000'/>
<g stroke='#333' stroke-width='1.1' fill='none'><rect x='39.5' y='201' width='200.5' height='153.7'/></g>
<path d='M48.50 354.7v3.2 M73.75 354.7v3.2 M99.30 354.7v3.2 M124.85 354.7v3.2 M150.40 354.7v3.2 M175.95 354.7v3.2 M201.50 354.7v3.2 M227.05 354.7v3.2 M86.53 354.7v2 M112.08 354.7v2 M137.62 354.7v2 M163.18 354.7v2 M188.73 354.7v2 M214.28 354.7v2 M61.12 354.7v2 M39.5 342.00h-3.5 M39.5 329.20h-2 M39.5 316.40h-3.5 M39.5 303.60h-2 M39.5 290.80h-3.5 M39.5 278.00h-2 M39.5 265.20h-3.5 M39.5 252.40h-2 M39.5 239.60h-3.5 M39.5 226.80h-2 M39.5 214.00h-3.5' stroke='#333' stroke-width='1' fill='none'/>
<path d='M57 203.5l3 -5M59.5 203.5l3 -5M57 357.2l3 -5M59.5 357.2l3 -5' stroke='#333' stroke-width='0.9'/>
<text x='48.50' y='367.8' text-anchor='middle' style="font-family:'Liberation Serif',serif;font-weight:bold" font-size='7.3'>-30</text>
<text x='73.75' y='367.8' text-anchor='middle' style="font-family:'Liberation Serif',serif;font-weight:bold" font-size='7.3'>0</text>
<text x='99.30' y='367.8' text-anchor='middle' style="font-family:'Liberation Serif',serif;font-weight:bold" font-size='7.3'>10</text>
<text x='124.85' y='367.8' text-anchor='middle' style="font-family:'Liberation Serif',serif;font-weight:bold" font-size='7.3'>20</text>
<text x='150.40' y='367.8' text-anchor='middle' style="font-family:'Liberation Serif',serif;font-weight:bold" font-size='7.3'>30</text>
<text x='175.95' y='367.8' text-anchor='middle' style="font-family:'Liberation Serif',serif;font-weight:bold" font-size='7.3'>40</text>
<text x='201.50' y='367.8' text-anchor='middle' style="font-family:'Liberation Serif',serif;font-weight:bold" font-size='7.3'>50</text>
<text x='227.05' y='367.8' text-anchor='middle' style="font-family:'Liberation Serif',serif;font-weight:bold" font-size='7.3'>60</text>
<text x='32.3' y='344.50' text-anchor='end' style="font-family:'Liberation Serif',serif;font-weight:bold" font-size='7.3'>0.0</text>
<text x='32.3' y='318.90' text-anchor='end' style="font-family:'Liberation Serif',serif;font-weight:bold" font-size='7.3'>0.2</text>
<text x='32.3' y='293.30' text-anchor='end' style="font-family:'Liberation Serif',serif;font-weight:bold" font-size='7.3'>0.4</text>
<text x='32.3' y='267.70' text-anchor='end' style="font-family:'Liberation Serif',serif;font-weight:bold" font-size='7.3'>0.6</text>
<text x='32.3' y='242.10' text-anchor='end' style="font-family:'Liberation Serif',serif;font-weight:bold" font-size='7.3'>0.8</text>
<text x='32.3' y='216.50' text-anchor='end' style="font-family:'Liberation Serif',serif;font-weight:bold" font-size='7.3'>1.0</text>
<text x='140' y='382.5' text-anchor='middle' style="font-family:'Liberation Serif',serif;font-weight:bold" font-size='10'>Time (min)</text>
<text transform='translate(17.8,277.6) rotate(-90)' text-anchor='middle' style="font-family:'Liberation Serif',serif;font-weight:bold;font-style:italic" font-size='10'>C/C<tspan font-size='6.5' dy='2.5'>0</tspan></text>
<text x='57' y='318' text-anchor='middle' fill='#fff' style="font-family:'Liberation Serif',serif;font-weight:bold" font-size='8.2'>Dark</text>
<text x='12.5' y='201.6' style="font-family:'Liberation Sans',sans-serif;font-weight:bold" font-size='18'>c</text>
<polyline points='73.75,214.00 99.30,214.00 124.85,215.28 150.40,216.05 175.95,216.05 201.50,216.56 227.05,217.46' fill='none' stroke='#ff3cf0' stroke-width='1'/>
<polyline points='73.75,214.00 99.30,214.64 124.85,217.20 150.40,222.32 175.95,223.34 201.50,224.75 227.05,225.78' fill='none' stroke='#9b30e8' stroke-width='1'/>
<polyline points='73.75,214.00 99.30,215.28 124.85,215.92 150.40,216.05 175.95,216.05 201.50,219.63 227.05,221.68' fill='none' stroke='#2a2ad0' stroke-width='1'/>
<polyline points='73.75,214.00 99.30,216.05 124.85,219.12 150.40,231.28 175.95,237.55 201.50,243.44 227.05,244.98' fill='none' stroke='#2a5ae8' stroke-width='1'/>
<polyline points='73.75,214.00 99.30,214.00 124.85,215.28 150.40,217.84 175.95,217.84 201.50,221.68 227.05,222.96' fill='none' stroke='#22c8f0' stroke-width='1'/>
<polyline points='73.75,214.00 99.30,214.00 124.85,220.40 150.40,228.85 175.95,234.10 201.50,243.44 227.05,243.70' fill='none' stroke='#22e07a' stroke-width='1'/>
<polyline points='73.75,214.00 99.30,222.96 124.85,224.88 150.40,227.18 175.95,231.54 201.50,233.97 227.05,237.04' fill='none' stroke='#f5f020' stroke-width='1'/>
<polyline points='73.75,214.00 99.30,229.36 124.85,234.74 150.40,242.67 175.95,248.94 201.50,255.98 227.05,260.46' fill='none' stroke='#ffa526' stroke-width='1'/>
<polyline points='73.75,214.00 99.30,222.06 124.85,239.60 150.40,253.30 175.95,271.86 201.50,286.96 227.05,294.64' fill='none' stroke='#ff5a28' stroke-width='1'/>
<polyline points='73.75,214.00 99.30,252.40 124.85,271.60 150.40,284.40 175.95,299.76 201.50,316.40 227.05,333.04' fill='none' stroke='#ff2a2a' stroke-width='1'/>
<path d='M99.30 212.72V215.28M97.70 212.72h3.2M97.70 215.28h3.2' stroke='#ff3cf0' stroke-width='0.7' opacity='0.55'/>
<path d='M124.85 214.00V216.56M123.25 214.00h3.2M123.25 216.56h3.2' stroke='#ff3cf0' stroke-width='0.7' opacity='0.55'/>
<path d='M150.40 214.77V217.33M148.80 214.77h3.2M148.80 217.33h3.2' stroke='#ff3cf0' stroke-width='0.7' opacity='0.55'/>
<path d='M175.95 214.77V217.33M174.35 214.77h3.2M174.35 217.33h3.2' stroke='#ff3cf0' stroke-width='0.7' opacity='0.55'/>
<path d='M201.50 215.28V217.84M199.90 215.28h3.2M199.90 217.84h3.2' stroke='#ff3cf0' stroke-width='0.7' opacity='0.55'/>
<path d='M227.05 216.18V218.74M225.45 216.18h3.2M225.45 218.74h3.2' stroke='#ff3cf0' stroke-width='0.7' opacity='0.55'/>
<circle cx='73.75' cy='214.00' r='2.25' fill='#ff3cf0'/><circle cx='73.35' cy='213.60' r='0.9' fill='#ffa0f8'/>
<circle cx='99.30' cy='214.00' r='2.25' fill='#ff3cf0'/><circle cx='98.90' cy='213.60' r='0.9' fill='#ffa0f8'/>
<circle cx='124.85' cy='215.28' r='2.25' fill='#ff3cf0'/><circle cx='124.45' cy='214.88' r='0.9' fill='#ffa0f8'/>
<circle cx='150.40' cy='216.05' r='2.25' fill='#ff3cf0'/><circle cx='150.00' cy='215.65' r='0.9' fill='#ffa0f8'/>
<circle cx='175.95' cy='216.05' r='2.25' fill='#ff3cf0'/><circle cx='175.55' cy='215.65' r='0.9' fill='#ffa0f8'/>
<circle cx='201.50' cy='216.56' r='2.25' fill='#ff3cf0'/><circle cx='201.10' cy='216.16' r='0.9' fill='#ffa0f8'/>
<circle cx='227.05' cy='217.46' r='2.25' fill='#ff3cf0'/><circle cx='226.65' cy='217.06' r='0.9' fill='#ffa0f8'/>
<path d='M99.30 213.36V215.92M97.70 213.36h3.2M97.70 215.92h3.2' stroke='#9b30e8' stroke-width='0.7' opacity='0.55'/>
<path d='M124.85 215.92V218.48M123.25 215.92h3.2M123.25 218.48h3.2' stroke='#9b30e8' stroke-width='0.7' opacity='0.55'/>
<path d='M150.40 221.04V223.60M148.80 221.04h3.2M148.80 223.60h3.2' stroke='#9b30e8' stroke-width='0.7' opacity='0.55'/>
<path d='M175.95 222.06V224.62M174.35 222.06h3.2M174.35 224.62h3.2' stroke='#9b30e8' stroke-width='0.7' opacity='0.55'/>
<path d='M201.50 223.47V226.03M199.90 223.47h3.2M199.90 226.03h3.2' stroke='#9b30e8' stroke-width='0.7' opacity='0.55'/>
<path d='M227.05 224.50V227.06M225.45 224.50h3.2M225.45 227.06h3.2' stroke='#9b30e8' stroke-width='0.7' opacity='0.55'/>
<circle cx='73.75' cy='214.00' r='2.25' fill='#9b30e8'/><circle cx='73.35' cy='213.60' r='0.9' fill='#d09bff'/>
<circle cx='99.30' cy='214.64' r='2.25' fill='#9b30e8'/><circle cx='98.90' cy='214.24' r='0.9' fill='#d09bff'/>
<circle cx='124.85' cy='217.20' r='2.25' fill='#9b30e8'/><circle cx='124.45' cy='216.80' r='0.9' fill='#d09bff'/>
<circle cx='150.40' cy='222.32' r='2.25' fill='#9b30e8'/><circle cx='150.00' cy='221.92' r='0.9' fill='#d09bff'/>
<circle cx='175.95' cy='223.34' r='2.25' fill='#9b30e8'/><circle cx='175.55' cy='222.94' r='0.9' fill='#d09bff'/>
<circle cx='201.50' cy='224.75' r='2.25' fill='#9b30e8'/><circle cx='201.10' cy='224.35' r='0.9' fill='#d09bff'/>
<circle cx='227.05' cy='225.78' r='2.25' fill='#9b30e8'/><circle cx='226.65' cy='225.38' r='0.9' fill='#d09bff'/>
<path d='M99.30 213.36V217.20M97.70 213.36h3.2M97.70 217.20h3.2' stroke='#2a2ad0' stroke-width='0.7' opacity='0.55'/>
<path d='M124.85 213.36V218.48M123.25 213.36h3.2M123.25 218.48h3.2' stroke='#2a2ad0' stroke-width='0.7' opacity='0.55'/>
<path d='M150.40 214.13V217.97M148.80 214.13h3.2M148.80 217.97h3.2' stroke='#2a2ad0' stroke-width='0.7' opacity='0.55'/>
<path d='M175.95 214.13V217.97M174.35 214.13h3.2M174.35 217.97h3.2' stroke='#2a2ad0' stroke-width='0.7' opacity='0.55'/>
<path d='M201.50 217.07V222.19M199.90 217.07h3.2M199.90 222.19h3.2' stroke='#2a2ad0' stroke-width='0.7' opacity='0.55'/>
<path d='M227.05 219.12V224.24M225.45 219.12h3.2M225.45 224.24h3.2' stroke='#2a2ad0' stroke-width='0.7' opacity='0.55'/>
<circle cx='73.75' cy='214.00' r='2.25' fill='#2a2ad0'/><circle cx='73.35' cy='213.60' r='0.9' fill='#8f8fff'/>
<circle cx='99.30' cy='215.28' r='2.25' fill='#2a2ad0'/><circle cx='98.90' cy='214.88' r='0.9' fill='#8f8fff'/>
<circle cx='124.85' cy='215.92' r='2.25' fill='#2a2ad0'/><circle cx='124.45' cy='215.52' r='0.9' fill='#8f8fff'/>
<circle cx='150.40' cy='216.05' r='2.25' fill='#2a2ad0'/><circle cx='150.00' cy='215.65' r='0.9' fill='#8f8fff'/>
<circle cx='175.95' cy='216.05' r='2.25' fill='#2a2ad0'/><circle cx='175.55' cy='215.65' r='0.9' fill='#8f8fff'/>
<circle cx='201.50' cy='219.63' r='2.25' fill='#2a2ad0'/><circle cx='201.10' cy='219.23' r='0.9' fill='#8f8fff'/>
<circle cx='227.05' cy='221.68' r='2.25' fill='#2a2ad0'/><circle cx='226.65' cy='221.28' r='0.9' fill='#8f8fff'/>
<path d='M99.30 214.13V217.97M97.70 214.13h3.2M97.70 217.97h3.2' stroke='#2a5ae8' stroke-width='0.7' opacity='0.55'/>
<path d='M124.85 216.56V221.68M123.25 216.56h3.2M123.25 221.68h3.2' stroke='#2a5ae8' stroke-width='0.7' opacity='0.55'/>
<path d='M150.40 228.72V233.84M148.80 228.72h3.2M148.80 233.84h3.2' stroke='#2a5ae8' stroke-width='0.7' opacity='0.55'/>
<path d='M175.95 234.99V240.11M174.35 234.99h3.2M174.35 240.11h3.2' stroke='#2a5ae8' stroke-width='0.7' opacity='0.55'/>
<path d='M201.50 239.60V247.28M199.90 239.60h3.2M199.90 247.28h3.2' stroke='#2a5ae8' stroke-width='0.7' opacity='0.55'/>
<path d='M227.05 240.50V249.46M225.45 240.50h3.2M225.45 249.46h3.2' stroke='#2a5ae8' stroke-width='0.7' opacity='0.55'/>
<circle cx='73.75' cy='214.00' r='2.25' fill='#2a5ae8'/><circle cx='73.35' cy='213.60' r='0.9' fill='#8fb0ff'/>
<circle cx='99.30' cy='216.05' r='2.25' fill='#2a5ae8'/><circle cx='98.90' cy='215.65' r='0.9' fill='#8fb0ff'/>
<circle cx='124.85' cy='219.12' r='2.25' fill='#2a5ae8'/><circle cx='124.45' cy='218.72' r='0.9' fill='#8fb0ff'/>
<circle cx='150.40' cy='231.28' r='2.25' fill='#2a5ae8'/><circle cx='150.00' cy='230.88' r='0.9' fill='#8fb0ff'/>
<circle cx='175.95' cy='237.55' r='2.25' fill='#2a5ae8'/><circle cx='175.55' cy='237.15' r='0.9' fill='#8fb0ff'/>
<circle cx='201.50' cy='243.44' r='2.25' fill='#2a5ae8'/><circle cx='201.10' cy='243.04' r='0.9' fill='#8fb0ff'/>
<circle cx='227.05' cy='244.98' r='2.25' fill='#2a5ae8'/><circle cx='226.65' cy='244.58' r='0.9' fill='#8fb0ff'/>
<path d='M99.30 212.72V215.28M97.70 212.72h3.2M97.70 215.28h3.2' stroke='#22c8f0' stroke-width='0.7' opacity='0.55'/>
<path d='M124.85 211.44V219.12M123.25 211.44h3.2M123.25 219.12h3.2' stroke='#22c8f0' stroke-width='0.7' opacity='0.55'/>
<path d='M150.40 216.56V219.12M148.80 216.56h3.2M148.80 219.12h3.2' stroke='#22c8f0' stroke-width='0.7' opacity='0.55'/>
<path d='M175.95 216.56V219.12M174.35 216.56h3.2M174.35 219.12h3.2' stroke='#22c8f0' stroke-width='0.7' opacity='0.55'/>
<path d='M201.50 220.40V222.96M199.90 220.40h3.2M199.90 222.96h3.2' stroke='#22c8f0' stroke-width='0.7' opacity='0.55'/>
<path d='M227.05 221.68V224.24M225.45 221.68h3.2M225.45 224.24h3.2' stroke='#22c8f0' stroke-width='0.7' opacity='0.55'/>
<circle cx='73.75' cy='214.00' r='2.25' fill='#22c8f0'/><circle cx='73.35' cy='213.60' r='0.9' fill='#9be8ff'/>
<circle cx='99.30' cy='214.00' r='2.25' fill='#22c8f0'/><circle cx='98.90' cy='213.60' r='0.9' fill='#9be8ff'/>
<circle cx='124.85' cy='215.28' r='2.25' fill='#22c8f0'/><circle cx='124.45' cy='214.88' r='0.9' fill='#9be8ff'/>
<circle cx='150.40' cy='217.84' r='2.25' fill='#22c8f0'/><circle cx='150.00' cy='217.44' r='0.9' fill='#9be8ff'/>
<circle cx='175.95' cy='217.84' r='2.25' fill='#22c8f0'/><circle cx='175.55' cy='217.44' r='0.9' fill='#9be8ff'/>
<circle cx='201.50' cy='221.68' r='2.25' fill='#22c8f0'/><circle cx='201.10' cy='221.28' r='0.9' fill='#9be8ff'/>
<circle cx='227.05' cy='222.96' r='2.25' fill='#22c8f0'/><circle cx='226.65' cy='222.56' r='0.9' fill='#9be8ff'/>
<path d='M99.30 212.72V215.28M97.70 212.72h3.2M97.70 215.28h3.2' stroke='#22e07a' stroke-width='0.7' opacity='0.55'/>
<path d='M124.85 217.84V222.96M123.25 217.84h3.2M123.25 222.96h3.2' stroke='#22e07a' stroke-width='0.7' opacity='0.55'/>
<path d='M150.40 226.29V231.41M148.80 226.29h3.2M148.80 231.41h3.2' stroke='#22e07a' stroke-width='0.7' opacity='0.55'/>
<path d='M175.95 231.54V236.66M174.35 231.54h3.2M174.35 236.66h3.2' stroke='#22e07a' stroke-width='0.7' opacity='0.55'/>
<path d='M201.50 239.60V247.28M199.90 239.60h3.2M199.90 247.28h3.2' stroke='#22e07a' stroke-width='0.7' opacity='0.55'/>
<path d='M227.05 241.14V246.26M225.45 241.14h3.2M225.45 246.26h3.2' stroke='#22e07a' stroke-width='0.7' opacity='0.55'/>
<circle cx='73.75' cy='214.00' r='2.25' fill='#22e07a'/><circle cx='73.35' cy='213.60' r='0.9' fill='#9bffc8'/>
<circle cx='99.30' cy='214.00' r='2.25' fill='#22e07a'/><circle cx='98.90' cy='213.60' r='0.9' fill='#9bffc8'/>
<circle cx='124.85' cy='220.40' r='2.25' fill='#22e07a'/><circle cx='124.45' cy='220.00' r='0.9' fill='#9bffc8'/>
<circle cx='150.40' cy='228.85' r='2.25' fill='#22e07a'/><circle cx='150.00' cy='228.45' r='0.9' fill='#9bffc8'/>
<circle cx='175.95' cy='234.10' r='2.25' fill='#22e07a'/><circle cx='175.55' cy='233.70' r='0.9' fill='#9bffc8'/>
<circle cx='201.50' cy='243.44' r='2.25' fill='#22e07a'/><circle cx='201.10' cy='243.04' r='0.9' fill='#9bffc8'/>
<circle cx='227.05' cy='243.70' r='2.25' fill='#22e07a'/><circle cx='226.65' cy='243.30' r='0.9' fill='#9bffc8'/>
<path d='M99.30 221.04V224.88M97.70 221.04h3.2M97.70 224.88h3.2' stroke='#f5f020' stroke-width='0.7' opacity='0.55'/>
<path d='M124.85 222.32V227.44M123.25 222.32h3.2M123.25 227.44h3.2' stroke='#f5f020' stroke-width='0.7' opacity='0.55'/>
<path d='M150.40 225.26V229.10M148.80 225.26h3.2M148.80 229.10h3.2' stroke='#f5f020' stroke-width='0.7' opacity='0.55'/>
<path d='M175.95 229.62V233.46M174.35 229.62h3.2M174.35 233.46h3.2' stroke='#f5f020' stroke-width='0.7' opacity='0.55'/>
<path d='M201.50 232.05V235.89M199.90 232.05h3.2M199.90 235.89h3.2' stroke='#f5f020' stroke-width='0.7' opacity='0.55'/>
<path d='M227.05 235.12V238.96M225.45 235.12h3.2M225.45 238.96h3.2' stroke='#f5f020' stroke-width='0.7' opacity='0.55'/>
<circle cx='73.75' cy='214.00' r='2.25' fill='#f5f020'/><circle cx='73.35' cy='213.60' r='0.9' fill='#ffffa0'/>
<circle cx='99.30' cy='222.96' r='2.25' fill='#f5f020'/><circle cx='98.90' cy='222.56' r='0.9' fill='#ffffa0'/>
<circle cx='124.85' cy='224.88' r='2.25' fill='#f5f020'/><circle cx='124.45' cy='224.48' r='0.9' fill='#ffffa0'/>
<circle cx='150.40' cy='227.18' r='2.25' fill='#f5f020'/><circle cx='150.00' cy='226.78' r='0.9' fill='#ffffa0'/>
<circle cx='175.95' cy='231.54' r='2.25' fill='#f5f020'/><circle cx='175.55' cy='231.14' r='0.9' fill='#ffffa0'/>
<circle cx='201.50' cy='233.97' r='2.25' fill='#f5f020'/><circle cx='201.10' cy='233.57' r='0.9' fill='#ffffa0'/>
<circle cx='227.05' cy='237.04' r='2.25' fill='#f5f020'/><circle cx='226.65' cy='236.64' r='0.9' fill='#ffffa0'/>
<path d='M99.30 226.80V231.92M97.70 226.80h3.2M97.70 231.92h3.2' stroke='#ffa526' stroke-width='0.7' opacity='0.55'/>
<path d='M124.85 232.18V237.30M123.25 232.18h3.2M123.25 237.30h3.2' stroke='#ffa526' stroke-width='0.7' opacity='0.55'/>
<path d='M150.40 240.11V245.23M148.80 240.11h3.2M148.80 245.23h3.2' stroke='#ffa526' stroke-width='0.7' opacity='0.55'/>
<path d='M175.95 246.38V251.50M174.35 246.38h3.2M174.35 251.50h3.2' stroke='#ffa526' stroke-width='0.7' opacity='0.55'/>
<path d='M201.50 253.42V258.54M199.90 253.42h3.2M199.90 258.54h3.2' stroke='#ffa526' stroke-width='0.7' opacity='0.55'/>
<path d='M227.05 257.26V263.66M225.45 257.26h3.2M225.45 263.66h3.2' stroke='#ffa526' stroke-width='0.7' opacity='0.55'/>
<circle cx='73.75' cy='214.00' r='2.25' fill='#ffa526'/><circle cx='73.35' cy='213.60' r='0.9' fill='#ffd89b'/>
<circle cx='99.30' cy='229.36' r='2.25' fill='#ffa526'/><circle cx='98.90' cy='228.96' r='0.9' fill='#ffd89b'/>
<circle cx='124.85' cy='234.74' r='2.25' fill='#ffa526'/><circle cx='124.45' cy='234.34' r='0.9' fill='#ffd89b'/>
<circle cx='150.40' cy='242.67' r='2.25' fill='#ffa526'/><circle cx='150.00' cy='242.27' r='0.9' fill='#ffd89b'/>
<circle cx='175.95' cy='248.94' r='2.25' fill='#ffa526'/><circle cx='175.55' cy='248.54' r='0.9' fill='#ffd89b'/>
<circle cx='201.50' cy='255.98' r='2.25' fill='#ffa526'/><circle cx='201.10' cy='255.58' r='0.9' fill='#ffd89b'/>
<circle cx='227.05' cy='260.46' r='2.25' fill='#ffa526'/><circle cx='226.65' cy='260.06' r='0.9' fill='#ffd89b'/>
<path d='M99.30 218.86V225.26M97.70 218.86h3.2M97.70 225.26h3.2' stroke='#ff5a28' stroke-width='0.7' opacity='0.55'/>
<path d='M124.85 237.04V242.16M123.25 237.04h3.2M123.25 242.16h3.2' stroke='#ff5a28' stroke-width='0.7' opacity='0.55'/>
<path d='M150.40 250.74V255.86M148.80 250.74h3.2M148.80 255.86h3.2' stroke='#ff5a28' stroke-width='0.7' opacity='0.55'/>
<path d='M175.95 268.66V275.06M174.35 268.66h3.2M174.35 275.06h3.2' stroke='#ff5a28' stroke-width='0.7' opacity='0.55'/>
<path d='M201.50 283.12V290.80M199.90 283.12h3.2M199.90 290.80h3.2' stroke='#ff5a28' stroke-width='0.7' opacity='0.55'/>
<path d='M227.05 292.08V297.20M225.45 292.08h3.2M225.45 297.20h3.2' stroke='#ff5a28' stroke-width='0.7' opacity='0.55'/>
<circle cx='73.75' cy='214.00' r='2.25' fill='#ff5a28'/><circle cx='73.35' cy='213.60' r='0.9' fill='#ffb09b'/>
<circle cx='99.30' cy='222.06' r='2.25' fill='#ff5a28'/><circle cx='98.90' cy='221.66' r='0.9' fill='#ffb09b'/>
<circle cx='124.85' cy='239.60' r='2.25' fill='#ff5a28'/><circle cx='124.45' cy='239.20' r='0.9' fill='#ffb09b'/>
<circle cx='150.40' cy='253.30' r='2.25' fill='#ff5a28'/><circle cx='150.00' cy='252.90' r='0.9' fill='#ffb09b'/>
<circle cx='175.95' cy='271.86' r='2.25' fill='#ff5a28'/><circle cx='175.55' cy='271.46' r='0.9' fill='#ffb09b'/>
<circle cx='201.50' cy='286.96' r='2.25' fill='#ff5a28'/><circle cx='201.10' cy='286.56' r='0.9' fill='#ffb09b'/>
<circle cx='227.05' cy='294.64' r='2.25' fill='#ff5a28'/><circle cx='226.65' cy='294.24' r='0.9' fill='#ffb09b'/>
<path d='M99.30 248.56V256.24M97.70 248.56h3.2M97.70 256.24h3.2' stroke='#ff2a2a' stroke-width='0.7' opacity='0.55'/>
<path d='M124.85 269.04V274.16M123.25 269.04h3.2M123.25 274.16h3.2' stroke='#ff2a2a' stroke-width='0.7' opacity='0.55'/>
<path d='M150.40 281.84V286.96M148.80 281.84h3.2M148.80 286.96h3.2' stroke='#ff2a2a' stroke-width='0.7' opacity='0.55'/>
<path d='M175.95 295.92V303.60M174.35 295.92h3.2M174.35 303.60h3.2' stroke='#ff2a2a' stroke-width='0.7' opacity='0.55'/>
<path d='M201.50 313.20V319.60M199.90 313.20h3.2M199.90 319.60h3.2' stroke='#ff2a2a' stroke-width='0.7' opacity='0.55'/>
<path d='M227.05 329.20V336.88M225.45 329.20h3.2M225.45 336.88h3.2' stroke='#ff2a2a' stroke-width='0.7' opacity='0.55'/>
<circle cx='73.75' cy='214.00' r='2.25' fill='#ff2a2a'/><circle cx='73.35' cy='213.60' r='0.9' fill='#ff9b9b'/>
<circle cx='99.30' cy='252.40' r='2.25' fill='#ff2a2a'/><circle cx='98.90' cy='252.00' r='0.9' fill='#ff9b9b'/>
<circle cx='124.85' cy='271.60' r='2.25' fill='#ff2a2a'/><circle cx='124.45' cy='271.20' r='0.9' fill='#ff9b9b'/>
<circle cx='150.40' cy='284.40' r='2.25' fill='#ff2a2a'/><circle cx='150.00' cy='284.00' r='0.9' fill='#ff9b9b'/>
<circle cx='175.95' cy='299.76' r='2.25' fill='#ff2a2a'/><circle cx='175.55' cy='299.36' r='0.9' fill='#ff9b9b'/>
<circle cx='201.50' cy='316.40' r='2.25' fill='#ff2a2a'/><circle cx='201.10' cy='316.00' r='0.9' fill='#ff9b9b'/>
<circle cx='227.05' cy='333.04' r='2.25' fill='#ff2a2a'/><circle cx='226.65' cy='332.64' r='0.9' fill='#ff9b9b'/>
<path d='M50.50 214.00H73.75' stroke='#ff7a30' stroke-width='1.3' stroke-dasharray='3 1.6 4.5 3 4.5 3'/>
<circle cx='48.50' cy='214.00' r='2.2' fill='#ff2020'/><circle cx='73.75' cy='214.00' r='2.6' fill='#f08020'/>
<path d='M74.5 262.00H89' stroke='#ff3cf0' stroke-width='1'/><circle cx='81.8' cy='262.00' r='1.9' fill='#ff3cf0'/>
<text x='91.3' y='264.50' style="font-family:'Liberation Serif',serif;font-weight:bold" font-size='7.2'><tspan>C</tspan><tspan font-size='5.04' dy='2.16'>3</tspan><tspan dy='-2.16'>&#8203;</tspan><tspan>N</tspan><tspan font-size='5.04' dy='2.16'>4</tspan><tspan dy='-2.16'>&#8203;</tspan></text>
<path d='M74.5 271.70H89' stroke='#9b30e8' stroke-width='1'/><circle cx='81.8' cy='271.70' r='1.9' fill='#9b30e8'/>
<text x='91.3' y='274.20' style="font-family:'Liberation Serif',serif;font-weight:bold" font-size='7.2'><tspan>C</tspan><tspan font-size='5.04' dy='2.16'>3</tspan><tspan dy='-2.16'>&#8203;</tspan><tspan>N</tspan><tspan font-size='5.04' dy='2.16'>4</tspan><tspan dy='-2.16'>&#8203;</tspan><tspan>/Fe</tspan><tspan font-size='5' dy='-3.2'>2+</tspan></text>
<path d='M74.5 281.40H89' stroke='#2a2ad0' stroke-width='1'/><circle cx='81.8' cy='281.40' r='1.9' fill='#2a2ad0'/>
<text x='91.3' y='283.90' style="font-family:'Liberation Serif',serif;font-weight:bold" font-size='7.2'><tspan>P-</tspan><tspan>C</tspan><tspan font-size='5.04' dy='2.16'>3</tspan><tspan dy='-2.16'>&#8203;</tspan><tspan>N</tspan><tspan font-size='5.04' dy='2.16'>4</tspan><tspan dy='-2.16'>&#8203;</tspan></text>
<path d='M74.5 291.10H89' stroke='#2a5ae8' stroke-width='1'/><circle cx='81.8' cy='291.10' r='1.9' fill='#2a5ae8'/>
<text x='91.3' y='293.60' style="font-family:'Liberation Serif',serif;font-weight:bold" font-size='7.2'><tspan>P-</tspan><tspan>C</tspan><tspan font-size='5.04' dy='2.16'>3</tspan><tspan dy='-2.16'>&#8203;</tspan><tspan>N</tspan><tspan font-size='5.04' dy='2.16'>4</tspan><tspan dy='-2.16'>&#8203;</tspan><tspan>/Fe</tspan><tspan font-size='5' dy='-3.2'>2+</tspan></text>
<path d='M74.5 300.80H89' stroke='#22c8f0' stroke-width='1'/><circle cx='81.8' cy='300.80' r='1.9' fill='#22c8f0'/>
<text x='91.3' y='303.30' style="font-family:'Liberation Serif',serif;font-weight:bold" font-size='7.2'><tspan>O-</tspan><tspan>C</tspan><tspan font-size='5.04' dy='2.16'>3</tspan><tspan dy='-2.16'>&#8203;</tspan><tspan>N</tspan><tspan font-size='5.04' dy='2.16'>4</tspan><tspan dy='-2.16'>&#8203;</tspan></text>
<path d='M74.5 310.50H89' stroke='#22e07a' stroke-width='1'/><circle cx='81.8' cy='310.50' r='1.9' fill='#22e07a'/>
<text x='91.3' y='313.00' style="font-family:'Liberation Serif',serif;font-weight:bold" font-size='7.2'><tspan>O-</tspan><tspan>C</tspan><tspan font-size='5.04' dy='2.16'>3</tspan><tspan dy='-2.16'>&#8203;</tspan><tspan>N</tspan><tspan font-size='5.04' dy='2.16'>4</tspan><tspan dy='-2.16'>&#8203;</tspan><tspan>/Fe</tspan><tspan font-size='5' dy='-3.2'>2+</tspan></text>
<path d='M74.5 320.20H89' stroke='#f5f020' stroke-width='1'/><circle cx='81.8' cy='320.20' r='1.9' fill='#f5f020'/>
<text x='91.3' y='322.70' style="font-family:'Liberation Serif',serif;font-weight:bold" font-size='7.2'><tspan>PO-</tspan><tspan>C</tspan><tspan font-size='5.04' dy='2.16'>3</tspan><tspan dy='-2.16'>&#8203;</tspan><tspan>N</tspan><tspan font-size='5.04' dy='2.16'>4</tspan><tspan dy='-2.16'>&#8203;</tspan></text>
<path d='M74.5 329.90H89' stroke='#ffa526' stroke-width='1'/><circle cx='81.8' cy='329.90' r='1.9' fill='#ffa526'/>
<text x='91.3' y='332.40' style="font-family:'Liberation Serif',serif;font-weight:bold" font-size='7.2'><tspan>PO-</tspan><tspan>C</tspan><tspan font-size='5.04' dy='2.16'>3</tspan><tspan dy='-2.16'>&#8203;</tspan><tspan>N</tspan><tspan font-size='5.04' dy='2.16'>4</tspan><tspan dy='-2.16'>&#8203;</tspan><tspan>/Fe</tspan><tspan font-size='5' dy='-3.2'>2+</tspan></text>
<path d='M74.5 339.60H89' stroke='#ff5a28' stroke-width='1'/><circle cx='81.8' cy='339.60' r='1.9' fill='#ff5a28'/>
<text x='91.3' y='342.10' style="font-family:'Liberation Serif',serif;font-weight:bold" font-size='7.2'><tspan>P-</tspan><tspan>C</tspan><tspan font-size='5.04' dy='2.16'>3</tspan><tspan dy='-2.16'>&#8203;</tspan><tspan>N</tspan><tspan font-size='5.04' dy='2.16'>4</tspan><tspan dy='-2.16'>&#8203;</tspan><tspan>/O-C</tspan><tspan font-size='5.04' dy='2.16'>3</tspan><tspan dy='-2.16'>&#8203;</tspan><tspan>N</tspan><tspan font-size='5.04' dy='2.16'>4</tspan><tspan dy='-2.16'>&#8203;</tspan></text>
<path d='M74.5 349.30H89' stroke='#ff2a2a' stroke-width='1'/><circle cx='81.8' cy='349.30' r='1.9' fill='#ff2a2a'/>
<text x='91.3' y='351.80' style="font-family:'Liberation Serif',serif;font-weight:bold" font-size='7.2'><tspan>P-</tspan><tspan>C</tspan><tspan font-size='5.04' dy='2.16'>3</tspan><tspan dy='-2.16'>&#8203;</tspan><tspan>N</tspan><tspan font-size='5.04' dy='2.16'>4</tspan><tspan dy='-2.16'>&#8203;</tspan><tspan>/O-C</tspan><tspan font-size='5.04' dy='2.16'>3</tspan><tspan dy='-2.16'>&#8203;</tspan><tspan>N</tspan><tspan font-size='5.04' dy='2.16'>4</tspan><tspan dy='-2.16'>&#8203;</tspan><tspan>/Fe</tspan><tspan font-size='5' dy='-3.2'>2+</tspan></text>
<defs><linearGradient id='go' x1='0' x2='1' y1='0' y2='0'><stop offset='0' stop-color='#ec7828'/><stop offset='0.1' stop-color='#f28a40'/><stop offset='0.25' stop-color='#f6a878'/><stop offset='0.42' stop-color='#ffffff'/><stop offset='0.64' stop-color='#ffffff'/><stop offset='0.8' stop-color='#f6b088'/><stop offset='0.92' stop-color='#f28a40'/><stop offset='1' stop-color='#ee8030'/></linearGradient><linearGradient id='gg' x1='0' x2='1' y1='0' y2='0'><stop offset='0' stop-color='#00d830'/><stop offset='0.14' stop-color='#00e838'/><stop offset='0.3' stop-color='#e8ffe8'/><stop offset='0.36' stop-color='#ffffff'/><stop offset='0.62' stop-color='#ffffff'/><stop offset='0.76' stop-color='#80f4a8'/><stop offset='0.86' stop-color='#00e060'/><stop offset='1' stop-color='#00d840'/></linearGradient></defs>
<rect x='340.30' y='354.48' width='23.4' height='3.92' fill='url(#gg)' stroke='#444' stroke-width='0.7'/>
<rect x='340.30' y='345.34' width='23.4' height='9.14' fill='url(#go)' stroke='#444' stroke-width='0.7'/>
<rect x='378.80' y='349.26' width='23.4' height='9.14' fill='url(#gg)' stroke='#444' stroke-width='0.7'/>
<rect x='378.80' y='328.80' width='23.4' height='20.46' fill='url(#go)' stroke='#444' stroke-width='0.7'/>
<rect x='416.80' y='347.66' width='23.4' height='10.74' fill='url(#gg)' stroke='#444' stroke-width='0.7'/>
<rect x='416.80' y='324.45' width='23.4' height='23.22' fill='url(#go)' stroke='#444' stroke-width='0.7'/>
<rect x='455.30' y='334.02' width='23.4' height='24.38' fill='url(#gg)' stroke='#444' stroke-width='0.7'/>
<rect x='455.30' y='308.78' width='23.4' height='25.25' fill='url(#go)' stroke='#444' stroke-width='0.7'/>
<rect x='493.40' y='272.07' width='23.4' height='86.33' fill='url(#gg)' stroke='#444' stroke-width='0.7'/>
<rect x='493.40' y='225.49' width='23.4' height='46.58' fill='url(#go)' stroke='#444' stroke-width='0.7'/>
<g stroke='#333' stroke-width='1.1' fill='none'><path d='M332.9 358.4V199.3H523.4'/><path d='M332.9 358.4H523.4'/></g>
<path d='M523.4 358.4V199.3' stroke='#ff2020' stroke-width='1.1'/>
<path d='M332.9 358.40h-3.5 M332.9 343.89h-2 M332.9 329.38h-3.5 M332.9 314.87h-2 M332.9 300.36h-3.5 M332.9 285.85h-2 M332.9 271.34h-3.5 M332.9 256.83h-2 M332.9 242.32h-3.5 M332.9 227.81h-2 M332.9 213.30h-3.5 M352.00 358.4v2.8 M390.50 358.4v2.8 M428.50 358.4v2.8 M467.00 358.4v2.8 M505.10 358.4v2.8 M371.25 358.4v1.8 M409.50 358.4v1.8 M447.75 358.4v1.8 M486.05 358.4v1.8' stroke='#333' stroke-width='1' fill='none'/>
<path d='M523.4 358.40h3.5 M523.4 338.47h2 M523.4 318.55h3.5 M523.4 298.62h2 M523.4 278.70h3.5 M523.4 258.77h2 M523.4 238.85h3.5 M523.4 218.92h2 M523.4 199.00h3.5' stroke='#ff2020' stroke-width='1' fill='none'/>
<text x='326.6' y='361.20' text-anchor='end' style="font-family:'Liberation Serif',serif;font-weight:bold" font-size='8'>0</text>
<text x='326.6' y='332.18' text-anchor='end' style="font-family:'Liberation Serif',serif;font-weight:bold" font-size='8'>20</text>
<text x='326.6' y='303.16' text-anchor='end' style="font-family:'Liberation Serif',serif;font-weight:bold" font-size='8'>40</text>
<text x='326.6' y='274.14' text-anchor='end' style="font-family:'Liberation Serif',serif;font-weight:bold" font-size='8'>60</text>
<text x='326.6' y='245.12' text-anchor='end' style="font-family:'Liberation Serif',serif;font-weight:bold" font-size='8'>80</text>
<text x='326.6' y='216.10' text-anchor='end' style="font-family:'Liberation Serif',serif;font-weight:bold" font-size='8'>100</text>
<text x='528.3' y='361.20' fill='#ff2020' style="font-family:'Liberation Serif',serif;font-weight:bold" font-size='8'>0</text>
<text x='528.3' y='321.35' fill='#ff2020' style="font-family:'Liberation Serif',serif;font-weight:bold" font-size='8'>10</text>
<text x='528.3' y='281.50' fill='#ff2020' style="font-family:'Liberation Serif',serif;font-weight:bold" font-size='8'>20</text>
<text x='528.3' y='241.65' fill='#ff2020' style="font-family:'Liberation Serif',serif;font-weight:bold" font-size='8'>30</text>
<text x='528.3' y='201.80' fill='#ff2020' style="font-family:'Liberation Serif',serif;font-weight:bold" font-size='8'>40</text>
<text x='352.00' y='370.8' text-anchor='middle' style="font-family:'Liberation Serif',serif;font-weight:bold" font-size='8.3'><tspan>C</tspan><tspan font-size='5.81' dy='2.49'>3</tspan><tspan dy='-2.49'>&#8203;</tspan><tspan>N</tspan><tspan font-size='5.81' dy='2.49'>4</tspan><tspan dy='-2.49'>&#8203;</tspan></text>
<text x='390.50' y='370.8' text-anchor='middle' style="font-family:'Liberation Serif',serif;font-weight:bold" font-size='8.3'><tspan>P-</tspan><tspan>C</tspan><tspan font-size='5.81' dy='2.49'>3</tspan><tspan dy='-2.49'>&#8203;</tspan><tspan>N</tspan><tspan font-size='5.81' dy='2.49'>4</tspan><tspan dy='-2.49'>&#8203;</tspan></text>
<text x='428.50' y='370.8' text-anchor='middle' style="font-family:'Liberation Serif',serif;font-weight:bold" font-size='8.3'><tspan>O-</tspan><tspan>C</tspan><tspan font-size='5.81' dy='2.49'>3</tspan><tspan dy='-2.49'>&#8203;</tspan><tspan>N</tspan><tspan font-size='5.81' dy='2.49'>4</tspan><tspan dy='-2.49'>&#8203;</tspan></text>
<text x='467.00' y='370.8' text-anchor='middle' style="font-family:'Liberation Serif',serif;font-weight:bold" font-size='8.3'><tspan>PO-</tspan><tspan>C</tspan><tspan font-size='5.81' dy='2.49'>3</tspan><tspan dy='-2.49'>&#8203;</tspan><tspan>N</tspan><tspan font-size='5.81' dy='2.49'>4</tspan><tspan dy='-2.49'>&#8203;</tspan></text>
<text x='513.00' y='370.8' text-anchor='middle' style="font-family:'Liberation Serif',serif;font-weight:bold" font-size='8.3'><tspan>P-</tspan><tspan>C</tspan><tspan font-size='5.81' dy='2.49'>3</tspan><tspan dy='-2.49'>&#8203;</tspan><tspan>N</tspan><tspan font-size='5.81' dy='2.49'>4</tspan><tspan dy='-2.49'>&#8203;</tspan><tspan>/O-C</tspan><tspan font-size='5.81' dy='2.49'>3</tspan><tspan dy='-2.49'>&#8203;</tspan><tspan>N</tspan><tspan font-size='5.81' dy='2.49'>4</tspan><tspan dy='-2.49'>&#8203;</tspan></text>
<text transform='translate(311.4,279) rotate(-90)' text-anchor='middle' style="font-family:'Liberation Serif',serif;font-weight:bold" font-size='9'>Total degradation efficiency(%)</text>
<text transform='translate(547,283) rotate(-90)' text-anchor='middle' fill='#ff2020' style="font-family:'Liberation Serif',serif;font-weight:bold" font-size='8.75'>Fenton reaction efficiency(%)</text>
<text x='291.5' y='207.5' style="font-family:'Liberation Sans',sans-serif;font-weight:bold" font-size='18'>d</text>
<polyline points='352.00,333.29 390.50,302.21 428.50,294.44 467.00,288.26 505.10,226.10' fill='none' stroke='#ff2020' stroke-width='1.1'/>
<circle cx='352.00' cy='333.29' r='3' fill='#ff1010'/><circle cx='351.40' cy='332.69' r='1.1' fill='#ff9090'/>
<circle cx='390.50' cy='302.21' r='3' fill='#ff1010'/><circle cx='389.90' cy='301.61' r='1.1' fill='#ff9090'/>
<circle cx='428.50' cy='294.44' r='3' fill='#ff1010'/><circle cx='427.90' cy='293.84' r='1.1' fill='#ff9090'/>
<circle cx='467.00' cy='288.26' r='3' fill='#ff1010'/><circle cx='466.40' cy='287.66' r='1.1' fill='#ff9090'/>
<circle cx='505.10' cy='226.10' r='3' fill='#ff1010'/><circle cx='504.50' cy='225.50' r='1.1' fill='#ff9090'/>
<path d='M508.10 226.10H520.5' stroke='#ff2020' stroke-width='1.2'/><path d='M523 226.10l-5 -2.5v5z' fill='#ff2020'/>
<rect x='350' y='212.3' width='17.6' height='9' fill='url(#go)' stroke='#555' stroke-width='0.6'/>
<rect x='350' y='222.7' width='17.6' height='9' fill='url(#gg)' stroke='#555' stroke-width='0.6'/>
<text x='370' y='220.1' style="font-family:'Liberation Serif',serif;font-weight:bold" font-size='7.9'>Fenton reaction</text>
<text x='370' y='230.3' style="font-family:'Liberation Serif',serif;font-weight:bold" font-size='7.9'>photocatalysis</text>
<text transform='translate(346.90,334.00) rotate(-90)' text-anchor='middle' style="font-family:'Liberation Serif',serif;font-weight:bold" font-size='7.3'>6.3%</text>
<text transform='translate(375.20,348.20) rotate(-90)' text-anchor='middle' style="font-family:'Liberation Serif',serif;font-weight:bold" font-size='7.3'>2.7%</text>
<text transform='translate(393.60,339.10) rotate(-90)' text-anchor='middle' style="font-family:'Liberation Serif',serif;font-weight:bold" font-size='7.5'>14.1%</text>
<text transform='translate(414.20,346.50) rotate(-90)' text-anchor='middle' style="font-family:'Liberation Serif',serif;font-weight:bold" font-size='7.3'>6.3%</text>
<text transform='translate(431.20,336.10) rotate(-90)' text-anchor='middle' style="font-family:'Liberation Serif',serif;font-weight:bold" font-size='7.5'>16.0%</text>
<text transform='translate(452.60,347.30) rotate(-90)' text-anchor='middle' style="font-family:'Liberation Serif',serif;font-weight:bold" font-size='7.3'>7.4%</text>
<text transform='translate(470.40,321.60) rotate(-90)' text-anchor='middle' style="font-family:'Liberation Serif',serif;font-weight:bold" font-size='7.4'>17.4%</text>
<text transform='translate(470.40,346.50) rotate(-90)' text-anchor='middle' style="font-family:'Liberation Serif',serif;font-weight:bold" font-size='7.2'>16.8%</text>
<text transform='translate(507.30,253.00) rotate(-90)' text-anchor='middle' style="font-family:'Liberation Serif',serif;font-weight:bold" font-size='8.6'>32.1%</text>
<text transform='translate(507.80,315.30) rotate(-90)' text-anchor='middle' style="font-family:'Liberation Serif',serif;font-weight:bold" font-size='8.1'>59.5%</text>
<path d='M356.3 355L365.5 354.0' stroke='#333' stroke-width='0.6'/><path d='M368 353.7l-3.5 -1.7v3.4z' fill='#111'/>
<path d='M393.6 353.5L402.5 352.3' stroke='#333' stroke-width='0.6'/><path d='M405 352l-3.5 -1.7v3.4z' fill='#111'/>
<path d='M432 351.5L441.0 350.5' stroke='#333' stroke-width='0.6'/><path d='M443.5 350.2l-3.5 -1.7v3.4z' fill='#111'/>
</svg>
</body></html>
